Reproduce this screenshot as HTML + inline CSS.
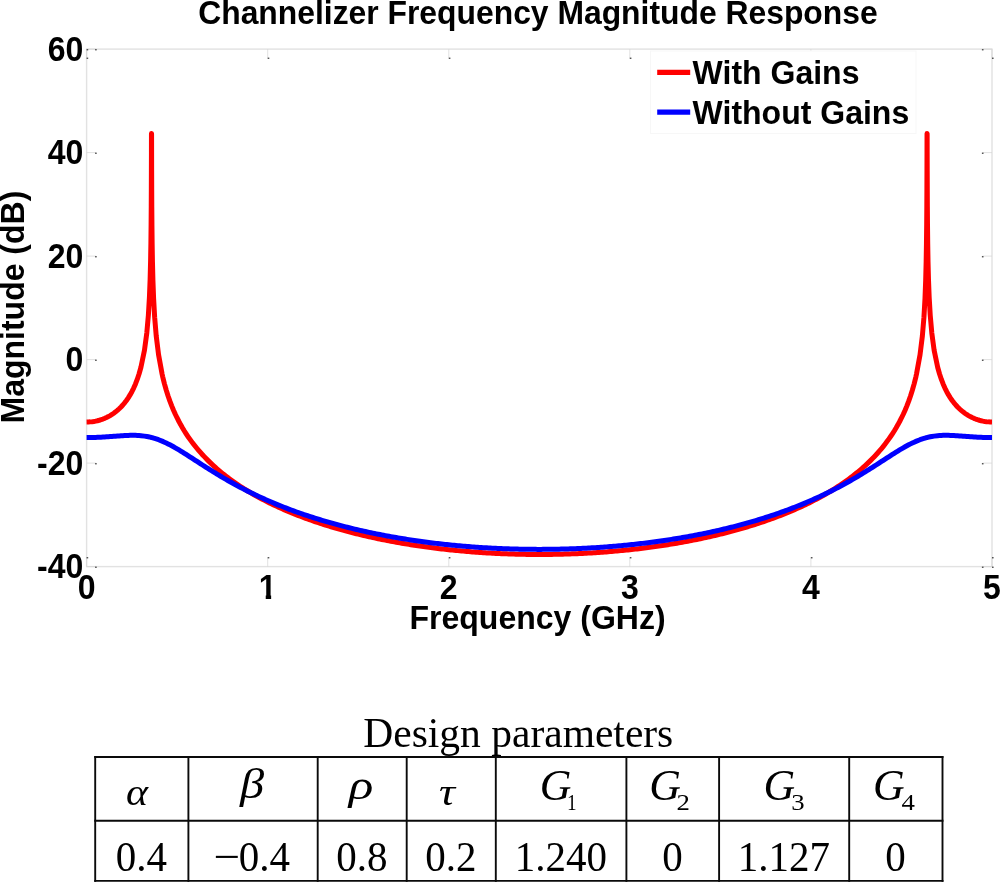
<!DOCTYPE html>
<html><head><meta charset="utf-8"><title>Channelizer Frequency Magnitude Response</title>
<style>
html,body{margin:0;padding:0;background:#fff;}
body{width:1000px;height:882px;position:relative;overflow:hidden;font-family:"Liberation Sans",sans-serif;color:#000;}
.b{position:absolute;font-weight:bold;font-size:32px;line-height:36px;white-space:nowrap;transform:scaleY(1.02);transform-origin:50% 29.09px;}
.yt,.xt{transform:scaleY(1.07);}
.one{clip-path:polygon(0 0,100% 0,100% 24.69px,33.46px 24.69px,33.46px 100%,28.07px 100%,28.07px 24.69px,0 24.69px);}
.yt{right:916.7px;text-align:right;}
.xt{width:60px;text-align:center;}
svg{position:absolute;left:0;top:0;}
.tbl{position:absolute;left:0;top:0;font-family:"Liberation Serif",serif;}
.t{position:absolute;white-space:nowrap;line-height:50px;height:50px;}
.m{display:inline-block;transform:translateX(1px) scaleX(1.15);transform-origin:100% 50%;}
#page{position:absolute;left:0;top:0;width:1000px;height:882px;overflow:hidden;background:#fff;filter:blur(0.4px);}
</style></head><body>
<div id="page">
<svg width="1000" height="882" viewBox="0 0 1000 882">
<rect x="86.6" y="49.1" width="905.4" height="517.5" fill="none" stroke="#e2e2e2" stroke-width="1.4"/>
<g stroke="#d4d4d4" stroke-width="0.7"><line x1="86.6" y1="49.1" x2="96.1" y2="49.1"/><line x1="992.0" y1="49.1" x2="982.5" y2="49.1"/><line x1="86.6" y1="152.6" x2="96.1" y2="152.6"/><line x1="992.0" y1="152.6" x2="982.5" y2="152.6"/><line x1="86.6" y1="256.1" x2="96.1" y2="256.1"/><line x1="992.0" y1="256.1" x2="982.5" y2="256.1"/><line x1="86.6" y1="359.6" x2="96.1" y2="359.6"/><line x1="992.0" y1="359.6" x2="982.5" y2="359.6"/><line x1="86.6" y1="463.1" x2="96.1" y2="463.1"/><line x1="992.0" y1="463.1" x2="982.5" y2="463.1"/><line x1="86.6" y1="566.6" x2="96.1" y2="566.6"/><line x1="992.0" y1="566.6" x2="982.5" y2="566.6"/><line x1="86.6" y1="566.6" x2="86.6" y2="557.1"/><line x1="86.6" y1="49.1" x2="86.6" y2="58.6"/><line x1="267.7" y1="566.6" x2="267.7" y2="557.1"/><line x1="267.7" y1="49.1" x2="267.7" y2="58.6"/><line x1="448.8" y1="566.6" x2="448.8" y2="557.1"/><line x1="448.8" y1="49.1" x2="448.8" y2="58.6"/><line x1="629.8" y1="566.6" x2="629.8" y2="557.1"/><line x1="629.8" y1="49.1" x2="629.8" y2="58.6"/><line x1="810.9" y1="566.6" x2="810.9" y2="557.1"/><line x1="810.9" y1="49.1" x2="810.9" y2="58.6"/><line x1="992.0" y1="566.6" x2="992.0" y2="557.1"/><line x1="992.0" y1="49.1" x2="992.0" y2="58.6"/></g>
<g fill="#444"><rect x="95.1" y="49.1" width="1.6" height="1.3"/><rect x="981.9" y="49.1" width="1.6" height="1.3"/><rect x="95.1" y="152.6" width="1.6" height="1.3"/><rect x="981.9" y="152.6" width="1.6" height="1.3"/><rect x="95.1" y="256.1" width="1.6" height="1.3"/><rect x="981.9" y="256.1" width="1.6" height="1.3"/><rect x="95.1" y="359.6" width="1.6" height="1.3"/><rect x="981.9" y="359.6" width="1.6" height="1.3"/><rect x="95.1" y="463.1" width="1.6" height="1.3"/><rect x="981.9" y="463.1" width="1.6" height="1.3"/><rect x="95.1" y="566.6" width="1.6" height="1.3"/><rect x="981.9" y="566.6" width="1.6" height="1.3"/><rect x="86.6" y="557.1" width="1.6" height="1.3"/><rect x="86.6" y="57.6" width="1.6" height="1.3"/><rect x="267.7" y="557.1" width="1.6" height="1.3"/><rect x="267.7" y="57.6" width="1.6" height="1.3"/><rect x="448.8" y="557.1" width="1.6" height="1.3"/><rect x="448.8" y="57.6" width="1.6" height="1.3"/><rect x="629.8" y="557.1" width="1.6" height="1.3"/><rect x="629.8" y="57.6" width="1.6" height="1.3"/><rect x="810.9" y="557.1" width="1.6" height="1.3"/><rect x="810.9" y="57.6" width="1.6" height="1.3"/><rect x="992.0" y="557.1" width="1.6" height="1.3"/><rect x="992.0" y="57.6" width="1.6" height="1.3"/><rect x="86.6" y="49.1" width="1.6" height="1.3"/><rect x="992.0" y="566.6" width="1.6" height="1.3"/></g>
<path d="M86.60,422.01 L88.41,421.98 L90.22,421.87 L92.03,421.69 L93.84,421.44 L95.65,421.11 L97.46,420.71 L99.28,420.24 L101.09,419.68 L102.90,419.04 L104.71,418.31 L106.52,417.50 L108.33,416.58 L110.14,415.57 L111.95,414.46 L113.76,413.23 L115.57,411.87 L117.38,410.39 L119.19,408.76 L121.01,406.98 L122.82,405.01 L124.63,402.86 L126.44,400.48 L128.25,397.86 L130.06,394.94 L131.87,391.70 L133.68,388.05 L135.49,383.93 L137.30,379.22 L139.11,373.76 L140.94,367.24 L144.47,350.25 L146.82,332.82 L148.38,315.12 L149.43,297.24 L150.12,279.25 L150.59,261.17 L150.90,243.05 L151.10,224.89 L151.24,206.73 L151.33,188.57 L151.39,170.38 L151.44,152.27 L151.46,134.27 L151.52,133.45 L151.57,134.30 L151.60,152.32 L151.64,170.46 L151.70,188.64 L151.79,206.91 L151.93,225.16 L152.14,243.44 L152.45,261.77 L152.91,280.14 L153.61,298.59 L154.65,317.14 L156.22,335.85 L158.57,354.80 L162.09,374.07 L162.65,376.57 L164.46,383.87 L166.28,390.26 L168.09,395.97 L169.90,401.13 L171.71,405.85 L173.52,410.19 L175.33,414.22 L177.14,417.98 L178.95,421.51 L180.76,424.83 L182.57,427.98 L184.38,430.97 L186.19,433.81 L188.00,436.52 L189.82,439.12 L191.63,441.61 L193.44,444.00 L195.25,446.30 L197.06,448.52 L198.87,450.66 L200.68,452.72 L202.49,454.73 L204.30,456.66 L206.11,458.54 L207.92,460.37 L209.73,462.14 L211.55,463.87 L213.36,465.55 L215.17,467.18 L216.98,468.77 L218.79,470.33 L220.60,471.84 L222.41,473.32 L224.22,474.77 L226.03,476.18 L227.84,477.56 L229.65,478.92 L231.46,480.24 L233.27,481.53 L235.09,482.80 L236.90,484.04 L238.71,485.26 L240.52,486.46 L242.33,487.63 L244.14,488.78 L245.95,489.91 L247.76,491.01 L249.57,492.10 L251.38,493.17 L253.19,494.22 L255.00,495.25 L256.82,496.26 L258.63,497.26 L260.44,498.23 L262.25,499.20 L264.06,500.14 L265.87,501.07 L267.68,501.99 L269.49,502.89 L271.30,503.78 L273.11,504.65 L274.92,505.51 L276.73,506.36 L278.54,507.19 L280.36,508.01 L282.17,508.82 L283.98,509.62 L285.79,510.40 L287.60,511.17 L289.41,511.93 L291.22,512.68 L293.03,513.42 L294.84,514.15 L296.65,514.87 L298.46,515.58 L300.27,516.27 L302.09,516.96 L303.90,517.64 L305.71,518.31 L307.52,518.97 L309.33,519.62 L311.14,520.26 L312.95,520.89 L314.76,521.51 L316.57,522.13 L318.38,522.73 L320.19,523.33 L322.00,523.92 L323.81,524.50 L325.63,525.08 L327.44,525.64 L329.25,526.20 L331.06,526.75 L332.87,527.29 L334.68,527.83 L336.49,528.36 L338.30,528.88 L340.11,529.39 L341.92,529.90 L343.73,530.40 L345.54,530.89 L347.36,531.38 L349.17,531.85 L350.98,532.33 L352.79,532.79 L354.60,533.25 L356.41,533.71 L358.22,534.16 L360.03,534.60 L361.84,535.03 L363.65,535.46 L365.46,535.88 L367.27,536.30 L369.08,536.71 L370.90,537.12 L372.71,537.52 L374.52,537.91 L376.33,538.30 L378.14,538.68 L379.95,539.06 L381.76,539.43 L383.57,539.80 L385.38,540.16 L387.19,540.51 L389.00,540.86 L390.81,541.21 L392.63,541.55 L394.44,541.88 L396.25,542.21 L398.06,542.54 L399.87,542.86 L401.68,543.17 L403.49,543.48 L405.30,543.78 L407.11,544.08 L408.92,544.38 L410.73,544.67 L412.54,544.95 L414.35,545.24 L416.17,545.51 L417.98,545.78 L419.79,546.05 L421.60,546.31 L423.41,546.57 L425.22,546.82 L427.03,547.07 L428.84,547.31 L430.65,547.55 L432.46,547.79 L434.27,548.02 L436.08,548.25 L437.90,548.47 L439.71,548.69 L441.52,548.90 L443.33,549.11 L445.14,549.31 L446.95,549.51 L448.76,549.71 L450.57,549.90 L452.38,550.09 L454.19,550.27 L456.00,550.45 L457.81,550.63 L459.62,550.80 L461.44,550.97 L463.25,551.13 L465.06,551.29 L466.87,551.45 L468.68,551.60 L470.49,551.74 L472.30,551.89 L474.11,552.03 L475.92,552.16 L477.73,552.29 L479.54,552.42 L481.35,552.54 L483.17,552.66 L484.98,552.78 L486.79,552.89 L488.60,553.00 L490.41,553.10 L492.22,553.20 L494.03,553.30 L495.84,553.39 L497.65,553.48 L499.46,553.56 L501.27,553.64 L503.08,553.72 L504.89,553.80 L506.71,553.86 L508.52,553.93 L510.33,553.99 L512.14,554.05 L513.95,554.10 L515.76,554.16 L517.57,554.20 L519.38,554.25 L521.19,554.28 L523.00,554.32 L524.81,554.35 L526.62,554.38 L528.44,554.40 L530.25,554.42 L532.06,554.44 L533.87,554.45 L535.68,554.46 L537.49,554.47 L539.30,554.47 L541.11,554.47 L542.92,554.46 L544.73,554.45 L546.54,554.44 L548.35,554.42 L550.16,554.40 L551.98,554.38 L553.79,554.35 L555.60,554.32 L557.41,554.28 L559.22,554.25 L561.03,554.20 L562.84,554.16 L564.65,554.10 L566.46,554.05 L568.27,553.99 L570.08,553.93 L571.89,553.86 L573.71,553.80 L575.52,553.72 L577.33,553.64 L579.14,553.56 L580.95,553.48 L582.76,553.39 L584.57,553.30 L586.38,553.20 L588.19,553.10 L590.00,553.00 L591.81,552.89 L593.62,552.78 L595.43,552.66 L597.25,552.54 L599.06,552.42 L600.87,552.29 L602.68,552.16 L604.49,552.03 L606.30,551.89 L608.11,551.74 L609.92,551.60 L611.73,551.45 L613.54,551.29 L615.35,551.13 L617.16,550.97 L618.98,550.80 L620.79,550.63 L622.60,550.45 L624.41,550.27 L626.22,550.09 L628.03,549.90 L629.84,549.71 L631.65,549.51 L633.46,549.31 L635.27,549.11 L637.08,548.90 L638.89,548.69 L640.70,548.47 L642.52,548.25 L644.33,548.02 L646.14,547.79 L647.95,547.55 L649.76,547.31 L651.57,547.07 L653.38,546.82 L655.19,546.57 L657.00,546.31 L658.81,546.05 L660.62,545.78 L662.43,545.51 L664.25,545.24 L666.06,544.95 L667.87,544.67 L669.68,544.38 L671.49,544.08 L673.30,543.78 L675.11,543.48 L676.92,543.17 L678.73,542.86 L680.54,542.54 L682.35,542.21 L684.16,541.88 L685.97,541.55 L687.79,541.21 L689.60,540.86 L691.41,540.51 L693.22,540.16 L695.03,539.80 L696.84,539.43 L698.65,539.06 L700.46,538.68 L702.27,538.30 L704.08,537.91 L705.89,537.52 L707.70,537.12 L709.52,536.71 L711.33,536.30 L713.14,535.88 L714.95,535.46 L716.76,535.03 L718.57,534.60 L720.38,534.16 L722.19,533.71 L724.00,533.25 L725.81,532.79 L727.62,532.33 L729.43,531.85 L731.24,531.38 L733.06,530.89 L734.87,530.40 L736.68,529.90 L738.49,529.39 L740.30,528.88 L742.11,528.36 L743.92,527.83 L745.73,527.29 L747.54,526.75 L749.35,526.20 L751.16,525.64 L752.97,525.08 L754.79,524.50 L756.60,523.92 L758.41,523.33 L760.22,522.73 L762.03,522.13 L763.84,521.51 L765.65,520.89 L767.46,520.26 L769.27,519.62 L771.08,518.97 L772.89,518.31 L774.70,517.64 L776.51,516.96 L778.33,516.27 L780.14,515.58 L781.95,514.87 L783.76,514.15 L785.57,513.42 L787.38,512.68 L789.19,511.93 L791.00,511.17 L792.81,510.40 L794.62,509.62 L796.43,508.82 L798.24,508.01 L800.06,507.19 L801.87,506.36 L803.68,505.51 L805.49,504.65 L807.30,503.78 L809.11,502.89 L810.92,501.99 L812.73,501.07 L814.54,500.14 L816.35,499.20 L818.16,498.23 L819.97,497.26 L821.78,496.26 L823.60,495.25 L825.41,494.22 L827.22,493.17 L829.03,492.10 L830.84,491.01 L832.65,489.91 L834.46,488.78 L836.27,487.63 L838.08,486.46 L839.89,485.26 L841.70,484.04 L843.51,482.80 L845.33,481.53 L847.14,480.24 L848.95,478.92 L850.76,477.56 L852.57,476.18 L854.38,474.77 L856.19,473.32 L858.00,471.84 L859.81,470.33 L861.62,468.77 L863.43,467.18 L865.24,465.55 L867.05,463.87 L868.87,462.14 L870.68,460.37 L872.49,458.54 L874.30,456.66 L876.11,454.73 L877.92,452.72 L879.73,450.66 L881.54,448.52 L883.35,446.30 L885.16,444.00 L886.97,441.61 L888.78,439.12 L890.60,436.52 L892.41,433.81 L894.22,430.97 L896.03,427.98 L897.84,424.83 L899.65,421.51 L901.46,417.98 L903.27,414.22 L905.08,410.19 L906.89,405.85 L908.70,401.13 L910.51,395.97 L912.32,390.26 L914.14,383.87 L915.95,376.57 L916.51,374.07 L920.03,354.80 L922.38,335.85 L923.95,317.14 L924.99,298.59 L925.69,280.14 L926.15,261.77 L926.46,243.44 L926.67,225.16 L926.81,206.91 L926.90,188.64 L926.96,170.46 L927.00,152.32 L927.03,134.30 L927.08,133.45 L927.14,134.27 L927.16,152.27 L927.21,170.38 L927.27,188.52 L927.36,206.73 L927.50,224.89 L927.70,243.05 L928.01,261.17 L928.48,279.25 L929.17,297.24 L930.22,315.12 L931.78,332.82 L934.13,350.25 L937.66,367.24 L939.49,373.76 L941.30,379.22 L943.11,383.93 L944.92,388.05 L946.73,391.70 L948.54,394.94 L950.35,397.86 L952.16,400.48 L953.97,402.86 L955.78,405.01 L957.59,406.98 L959.41,408.76 L961.22,410.39 L963.03,411.87 L964.84,413.23 L966.65,414.46 L968.46,415.57 L970.27,416.58 L972.08,417.50 L973.89,418.31 L975.70,419.04 L977.51,419.68 L979.32,420.24 L981.14,420.71 L982.95,421.11 L984.76,421.44 L986.57,421.69 L988.38,421.87 L990.19,421.98 L992.00,422.01" fill="none" stroke="#ff0000" stroke-width="5" stroke-linejoin="round" stroke-linecap="butt"/>
<path d="M86.60,437.57 L88.41,437.57 L90.22,437.55 L92.03,437.51 L93.84,437.47 L95.65,437.41 L97.46,437.34 L99.28,437.25 L101.09,437.16 L102.90,437.06 L104.71,436.94 L106.52,436.82 L108.33,436.70 L110.14,436.56 L111.95,436.43 L113.76,436.29 L115.57,436.15 L117.38,436.02 L119.19,435.89 L121.01,435.76 L122.82,435.65 L124.63,435.55 L126.44,435.46 L128.25,435.39 L130.06,435.34 L131.87,435.32 L133.68,435.32 L135.49,435.36 L137.30,435.43 L139.11,435.54 L140.94,435.69 L144.47,436.11 L146.82,436.49 L148.38,436.79 L149.43,437.01 L150.12,437.17 L150.59,437.28 L150.90,437.36 L151.10,437.41 L151.24,437.44 L151.33,437.46 L151.39,437.48 L151.44,437.49 L151.46,437.50 L151.52,437.51 L151.57,437.52 L151.60,437.53 L151.64,437.54 L151.70,437.56 L151.79,437.58 L151.93,437.62 L152.14,437.67 L152.45,437.75 L152.91,437.88 L153.61,438.08 L154.65,438.39 L156.22,438.89 L158.57,439.71 L162.09,441.11 L162.65,441.35 L164.46,442.16 L166.28,443.00 L168.09,443.90 L169.90,444.83 L171.71,445.79 L173.52,446.79 L175.33,447.82 L177.14,448.88 L178.95,449.96 L180.76,451.06 L182.57,452.18 L184.38,453.31 L186.19,454.46 L188.00,455.61 L189.82,456.78 L191.63,457.95 L193.44,459.12 L195.25,460.30 L197.06,461.47 L198.87,462.64 L200.68,463.81 L202.49,464.98 L204.30,466.14 L206.11,467.30 L207.92,468.45 L209.73,469.59 L211.55,470.72 L213.36,471.84 L215.17,472.96 L216.98,474.06 L218.79,475.16 L220.60,476.24 L222.41,477.32 L224.22,478.38 L226.03,479.43 L227.84,480.47 L229.65,481.50 L231.46,482.51 L233.27,483.52 L235.09,484.51 L236.90,485.49 L238.71,486.47 L240.52,487.42 L242.33,488.37 L244.14,489.31 L245.95,490.23 L247.76,491.15 L249.57,492.05 L251.38,492.94 L253.19,493.82 L255.00,494.69 L256.82,495.55 L258.63,496.40 L260.44,497.24 L262.25,498.07 L264.06,498.89 L265.87,499.69 L267.68,500.49 L269.49,501.28 L271.30,502.05 L273.11,502.82 L274.92,503.58 L276.73,504.33 L278.54,505.07 L280.36,505.80 L282.17,506.52 L283.98,507.23 L285.79,507.94 L287.60,508.63 L289.41,509.32 L291.22,509.99 L293.03,510.66 L294.84,511.32 L296.65,511.98 L298.46,512.62 L300.27,513.26 L302.09,513.89 L303.90,514.51 L305.71,515.12 L307.52,515.73 L309.33,516.32 L311.14,516.91 L312.95,517.50 L314.76,518.07 L316.57,518.64 L318.38,519.20 L320.19,519.76 L322.00,520.30 L323.81,520.85 L325.63,521.38 L327.44,521.91 L329.25,522.43 L331.06,522.94 L332.87,523.45 L334.68,523.95 L336.49,524.44 L338.30,524.93 L340.11,525.41 L341.92,525.89 L343.73,526.36 L345.54,526.82 L347.36,527.28 L349.17,527.73 L350.98,528.18 L352.79,528.62 L354.60,529.06 L356.41,529.48 L358.22,529.91 L360.03,530.33 L361.84,530.74 L363.65,531.14 L365.46,531.55 L367.27,531.94 L369.08,532.33 L370.90,532.72 L372.71,533.10 L374.52,533.47 L376.33,533.84 L378.14,534.20 L379.95,534.56 L381.76,534.92 L383.57,535.27 L385.38,535.61 L387.19,535.95 L389.00,536.29 L390.81,536.62 L392.63,536.94 L394.44,537.26 L396.25,537.58 L398.06,537.89 L399.87,538.19 L401.68,538.49 L403.49,538.79 L405.30,539.08 L407.11,539.37 L408.92,539.65 L410.73,539.93 L412.54,540.20 L414.35,540.47 L416.17,540.74 L417.98,541.00 L419.79,541.25 L421.60,541.51 L423.41,541.75 L425.22,542.00 L427.03,542.24 L428.84,542.47 L430.65,542.70 L432.46,542.93 L434.27,543.15 L436.08,543.37 L437.90,543.58 L439.71,543.79 L441.52,544.00 L443.33,544.20 L445.14,544.40 L446.95,544.59 L448.76,544.78 L450.57,544.96 L452.38,545.15 L454.19,545.32 L456.00,545.50 L457.81,545.67 L459.62,545.83 L461.44,545.99 L463.25,546.15 L465.06,546.30 L466.87,546.45 L468.68,546.60 L470.49,546.74 L472.30,546.88 L474.11,547.02 L475.92,547.15 L477.73,547.27 L479.54,547.40 L481.35,547.52 L483.17,547.63 L484.98,547.74 L486.79,547.85 L488.60,547.95 L490.41,548.06 L492.22,548.15 L494.03,548.25 L495.84,548.33 L497.65,548.42 L499.46,548.50 L501.27,548.58 L503.08,548.65 L504.89,548.73 L506.71,548.79 L508.52,548.86 L510.33,548.92 L512.14,548.97 L513.95,549.03 L515.76,549.07 L517.57,549.12 L519.38,549.16 L521.19,549.20 L523.00,549.23 L524.81,549.26 L526.62,549.29 L528.44,549.32 L530.25,549.34 L532.06,549.35 L533.87,549.36 L535.68,549.37 L537.49,549.38 L539.30,549.38 L541.11,549.38 L542.92,549.37 L544.73,549.36 L546.54,549.35 L548.35,549.34 L550.16,549.32 L551.98,549.29 L553.79,549.26 L555.60,549.23 L557.41,549.20 L559.22,549.16 L561.03,549.12 L562.84,549.07 L564.65,549.03 L566.46,548.97 L568.27,548.92 L570.08,548.86 L571.89,548.79 L573.71,548.73 L575.52,548.65 L577.33,548.58 L579.14,548.50 L580.95,548.42 L582.76,548.33 L584.57,548.25 L586.38,548.15 L588.19,548.06 L590.00,547.95 L591.81,547.85 L593.62,547.74 L595.43,547.63 L597.25,547.52 L599.06,547.40 L600.87,547.27 L602.68,547.15 L604.49,547.02 L606.30,546.88 L608.11,546.74 L609.92,546.60 L611.73,546.45 L613.54,546.30 L615.35,546.15 L617.16,545.99 L618.98,545.83 L620.79,545.67 L622.60,545.50 L624.41,545.32 L626.22,545.15 L628.03,544.96 L629.84,544.78 L631.65,544.59 L633.46,544.40 L635.27,544.20 L637.08,544.00 L638.89,543.79 L640.70,543.58 L642.52,543.37 L644.33,543.15 L646.14,542.93 L647.95,542.70 L649.76,542.47 L651.57,542.24 L653.38,542.00 L655.19,541.75 L657.00,541.51 L658.81,541.25 L660.62,541.00 L662.43,540.74 L664.25,540.47 L666.06,540.20 L667.87,539.93 L669.68,539.65 L671.49,539.37 L673.30,539.08 L675.11,538.79 L676.92,538.49 L678.73,538.19 L680.54,537.89 L682.35,537.58 L684.16,537.26 L685.97,536.94 L687.79,536.62 L689.60,536.29 L691.41,535.95 L693.22,535.61 L695.03,535.27 L696.84,534.92 L698.65,534.56 L700.46,534.20 L702.27,533.84 L704.08,533.47 L705.89,533.10 L707.70,532.72 L709.52,532.33 L711.33,531.94 L713.14,531.55 L714.95,531.14 L716.76,530.74 L718.57,530.33 L720.38,529.91 L722.19,529.48 L724.00,529.06 L725.81,528.62 L727.62,528.18 L729.43,527.73 L731.24,527.28 L733.06,526.82 L734.87,526.36 L736.68,525.89 L738.49,525.41 L740.30,524.93 L742.11,524.44 L743.92,523.95 L745.73,523.45 L747.54,522.94 L749.35,522.43 L751.16,521.91 L752.97,521.38 L754.79,520.85 L756.60,520.30 L758.41,519.76 L760.22,519.20 L762.03,518.64 L763.84,518.07 L765.65,517.50 L767.46,516.91 L769.27,516.32 L771.08,515.73 L772.89,515.12 L774.70,514.51 L776.51,513.89 L778.33,513.26 L780.14,512.62 L781.95,511.98 L783.76,511.32 L785.57,510.66 L787.38,509.99 L789.19,509.32 L791.00,508.63 L792.81,507.94 L794.62,507.23 L796.43,506.52 L798.24,505.80 L800.06,505.07 L801.87,504.33 L803.68,503.58 L805.49,502.82 L807.30,502.05 L809.11,501.28 L810.92,500.49 L812.73,499.69 L814.54,498.89 L816.35,498.07 L818.16,497.24 L819.97,496.40 L821.78,495.55 L823.60,494.69 L825.41,493.82 L827.22,492.94 L829.03,492.05 L830.84,491.15 L832.65,490.23 L834.46,489.31 L836.27,488.37 L838.08,487.42 L839.89,486.47 L841.70,485.49 L843.51,484.51 L845.33,483.52 L847.14,482.51 L848.95,481.50 L850.76,480.47 L852.57,479.43 L854.38,478.38 L856.19,477.32 L858.00,476.24 L859.81,475.16 L861.62,474.06 L863.43,472.96 L865.24,471.84 L867.05,470.72 L868.87,469.59 L870.68,468.45 L872.49,467.30 L874.30,466.14 L876.11,464.98 L877.92,463.81 L879.73,462.64 L881.54,461.47 L883.35,460.30 L885.16,459.12 L886.97,457.95 L888.78,456.78 L890.60,455.61 L892.41,454.46 L894.22,453.31 L896.03,452.18 L897.84,451.06 L899.65,449.96 L901.46,448.88 L903.27,447.82 L905.08,446.79 L906.89,445.79 L908.70,444.83 L910.51,443.90 L912.32,443.00 L914.14,442.16 L915.95,441.35 L916.51,441.11 L920.03,439.71 L922.38,438.89 L923.95,438.39 L924.99,438.08 L925.69,437.88 L926.15,437.75 L926.46,437.67 L926.67,437.62 L926.81,437.58 L926.90,437.56 L926.96,437.54 L927.00,437.53 L927.03,437.52 L927.08,437.51 L927.14,437.50 L927.16,437.49 L927.21,437.48 L927.27,437.46 L927.36,437.44 L927.50,437.41 L927.70,437.36 L928.01,437.28 L928.48,437.17 L929.17,437.01 L930.22,436.79 L931.78,436.49 L934.13,436.11 L937.66,435.69 L939.49,435.54 L941.30,435.43 L943.11,435.36 L944.92,435.32 L946.73,435.32 L948.54,435.34 L950.35,435.39 L952.16,435.46 L953.97,435.55 L955.78,435.65 L957.59,435.76 L959.41,435.89 L961.22,436.02 L963.03,436.15 L964.84,436.29 L966.65,436.43 L968.46,436.56 L970.27,436.70 L972.08,436.82 L973.89,436.94 L975.70,437.06 L977.51,437.16 L979.32,437.25 L981.14,437.34 L982.95,437.41 L984.76,437.47 L986.57,437.51 L988.38,437.55 L990.19,437.57 L992.00,437.57" fill="none" stroke="#0000ff" stroke-width="5" stroke-linejoin="round" stroke-linecap="butt"/>
<rect x="650.5" y="51" width="265.5" height="82.4" fill="#fff" stroke="#f7f7f7" stroke-width="1"/>
<line x1="657.2" y1="72.4" x2="690.2" y2="72.4" stroke="#ff0000" stroke-width="5.2"/>
<line x1="657.2" y1="112.2" x2="690.2" y2="112.2" stroke="#0000ff" stroke-width="5.2"/>
<g stroke="#0a0a0a" stroke-width="1.9"><line x1="95.20" y1="756.05" x2="95.20" y2="881.85"/><line x1="188.40" y1="756.05" x2="188.40" y2="881.85"/><line x1="317.70" y1="756.05" x2="317.70" y2="881.85"/><line x1="406.70" y1="756.05" x2="406.70" y2="881.85"/><line x1="495.80" y1="756.05" x2="495.80" y2="881.85"/><line x1="626.40" y1="756.05" x2="626.40" y2="881.85"/><line x1="719.10" y1="756.05" x2="719.10" y2="881.85"/><line x1="849.20" y1="756.05" x2="849.20" y2="881.85"/><line x1="942.50" y1="756.05" x2="942.50" y2="881.85"/><line x1="94.25" y1="757.00" x2="943.45" y2="757.00"/><line x1="94.25" y1="820.80" x2="943.45" y2="820.80"/><line x1="94.25" y1="880.90" x2="943.45" y2="880.90"/></g>
</svg>
<div class="b" id="title" style="left:198.2px;top:-5.44px;font-size:31.85px">Channelizer Frequency Magnitude Response</div>
<div class="b" style="left:692.6px;top:55.21px;">With Gains</div>
<div class="b" style="left:692.6px;top:94.91px;">Without Gains</div>
<div class="b" style="left:409.5px;top:600.11px;">Frequency (GHz)</div>
<div class="b" id="ylabel" style="left:-125.80px;top:278.21px;width:300px;text-align:center;transform:rotate(-90deg) scaleY(1.02);transform-origin:150px 29.09px;">Magnitude (dB)</div>
<div class="b yt" style="top:31.56px">60</div><div class="b yt" style="top:135.06px">40</div><div class="b yt" style="top:238.56px">20</div><div class="b yt" style="top:342.06px">0</div><div class="b yt" style="top:445.56px">-20</div><div class="b yt" style="top:549.06px">-40</div>
<div class="b xt" style="left:56.60px;top:570.41px">0</div><div class="b xt one" style="left:237.68px;top:570.41px">1</div><div class="b xt" style="left:418.76px;top:570.41px">2</div><div class="b xt" style="left:599.84px;top:570.41px">3</div><div class="b xt" style="left:780.92px;top:570.41px">4</div><div class="b xt" style="left:962.00px;top:570.41px">5</div>
<div class="tbl"><div class="t" style="top:766.90px;font-size:40px;left:97.00px;width:80.00px;text-align:center;transform-origin:50% 38.50px;transform:scale(1.05,0.96);"><i>α</i></div><div class="t" style="top:758.76px;font-size:41px;left:211.50px;width:80.00px;text-align:center;transform-origin:50% 38.84px;transform:scale(1.18,1.02);"><i>β</i></div><div class="t" style="top:759.76px;font-size:41px;left:320.60px;width:80.00px;text-align:center;transform-origin:50% 38.84px;transform:scale(1.25,1.01);"><i>ρ</i></div><div class="t" style="top:766.90px;font-size:40px;left:407.00px;width:80.00px;text-align:center;transform-origin:50% 38.50px;transform:scale(1.12,0.96);"><i>τ</i></div><div class="t" style="top:760.42px;font-size:43.8px;left:539.78px;transform-origin:0 39.78px;transform:scale(1.0,1.03);"><i>G</i></div><div class="t s" style="top:775.56px;font-size:26.8px;left:566.90px;transform-origin:0 34.05px;transform:scale(0.72,0.89);">1</div><div class="t" style="top:760.42px;font-size:43.8px;left:649.18px;transform-origin:0 39.78px;transform:scale(1.0,1.03);"><i>G</i></div><div class="t s" style="top:775.56px;font-size:26.8px;left:676.62px;transform-origin:0 34.05px;transform:scale(1.0,0.89);">2</div><div class="t" style="top:760.42px;font-size:43.8px;left:763.58px;transform-origin:0 39.78px;transform:scale(1.0,1.03);"><i>G</i></div><div class="t s" style="top:775.56px;font-size:26.8px;left:791.32px;transform-origin:0 34.05px;transform:scale(1.0,0.89);">3</div><div class="t" style="top:760.42px;font-size:43.8px;left:872.98px;transform-origin:0 39.78px;transform:scale(1.0,1.03);"><i>G</i></div><div class="t s" style="top:775.56px;font-size:26.8px;left:901.48px;transform-origin:0 34.05px;transform:scale(1.0,0.89);">4</div><div class="t" style="top:832.26px;font-size:41px;left:94.90px;width:93.20px;text-align:center;transform-origin:50% 38.84px;transform:scale(1.0,1.045);">0.4</div><div class="t" style="top:832.26px;font-size:41px;left:188.10px;width:129.30px;text-align:center;transform-origin:50% 38.84px;transform:scale(1.0,1.045);"><span class="m">−</span>0.4</div><div class="t" style="top:832.26px;font-size:41px;left:317.40px;width:89.00px;text-align:center;transform-origin:50% 38.84px;transform:scale(1.0,1.045);">0.8</div><div class="t" style="top:832.26px;font-size:41px;left:406.40px;width:89.10px;text-align:center;transform-origin:50% 38.84px;transform:scale(1.0,1.045);">0.2</div><div class="t" style="top:832.26px;font-size:41px;left:495.50px;width:130.60px;text-align:center;transform-origin:50% 38.84px;transform:scale(1.0,1.045);">1.240</div><div class="t" style="top:832.26px;font-size:41px;left:626.10px;width:92.70px;text-align:center;transform-origin:50% 38.84px;transform:scale(1.0,1.045);">0</div><div class="t" style="top:832.26px;font-size:41px;left:718.80px;width:130.10px;text-align:center;transform-origin:50% 38.84px;transform:scale(1.0,1.045);">1.127</div><div class="t" style="top:832.26px;font-size:41px;left:848.90px;width:93.30px;text-align:center;transform-origin:50% 38.84px;transform:scale(1.0,1.045);">0</div><div class="t" style="top:708.09px;font-size:41.5px;left:299.80px;width:437.00px;text-align:center;transform-origin:50% 39.01px;transform:scale(1.0,1.02);">Design parameters</div></div>
</div>
</body></html>
